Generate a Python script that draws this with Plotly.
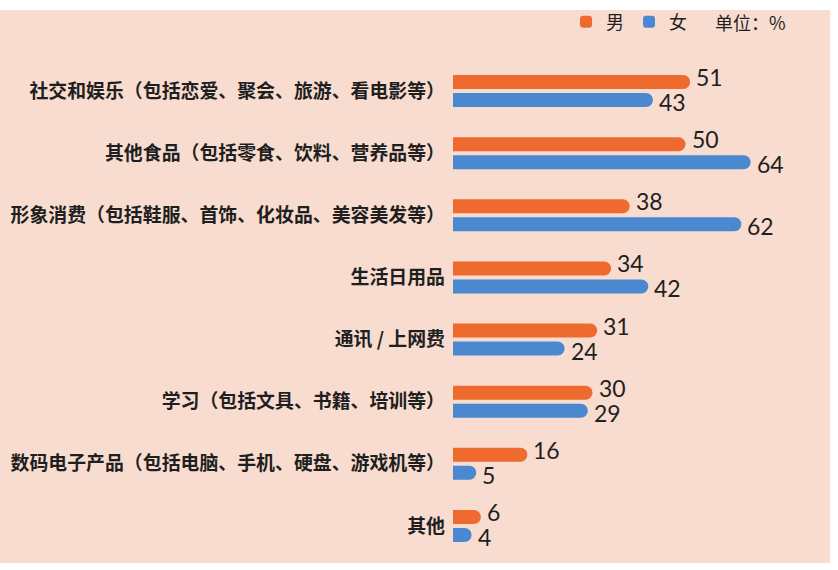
import plotly.graph_objects as go

# =====================================================
# DATA
# =====================================================

categories = [
    "社交和娱乐（包括恋爱、聚会、旅游、看电影等）",
    "其他食品（包括零食、饮料、营养品等）",
    "形象消费（包括鞋服、首饰、化妆品、美容美发等）",
    "生活日用品",
    "通讯 / 上网费",
    "学习（包括文具、书籍、培训等）",
    "数码电子产品（包括电脑、手机、硬盘、游戏机等）",
    "其他",
]
male = [51, 50, 38, 34, 31, 30, 16, 6]
female = [43, 64, 62, 42, 24, 29, 5, 4]

ORANGE = "#ee6a2e"
BLUE = "#4a88d0"
PEACH = "#f8dccf"
TEXT = "#1f1f1f"

W, H = 838, 570
M_L, M_R, M_T, M_B = 453, 8, 60, 13
plot_w = W - M_L - M_R
plot_h = H - M_T - M_B

fig = go.Figure()

# (name, values, colour, vertical shift of the value label in px)
series = [("男", male, ORANGE, 14), ("女", female, BLUE, -11)]

for name, vals, color, _ in series:
    fig.add_trace(
        go.Bar(
            y=categories,
            x=vals,
            name=name,
            orientation="h",
            marker=dict(color=color, cornerradius=7, line=dict(width=0)),
            hoverinfo="skip",
        )
    )

# -------------------------------------------------
# Value labels (annotations so the pair can be spread apart)
# -------------------------------------------------

for name, vals, color, dy in series:
    for cat, v in zip(categories, vals):
        fig.add_annotation(
            x=v, y=cat, text=str(v),
            xanchor="left", yanchor="middle",
            xshift=4, yshift=dy,
            showarrow=False,
            font=dict(family="Lato, Open Sans, sans-serif", size=23, color=TEXT),
        )

# -------------------------------------------------
# Peach panel behind everything (paper coords)
# -------------------------------------------------

def px_x(px):
    return (px - M_L) / plot_w

def px_y(px):
    return (H - M_B - px) / plot_h

fig.add_shape(
    type="rect", xref="paper", yref="paper", layer="below",
    x0=px_x(0), x1=px_x(830), y0=px_y(563), y1=px_y(10),
    fillcolor=PEACH, line=dict(width=0),
)

fig.add_annotation(
    text="单位：%", xref="paper", yref="paper",
    x=px_x(713), y=px_y(22), xanchor="left", yanchor="middle",
    showarrow=False,
    font=dict(family="Noto Sans CJK SC", size=18, color=TEXT),
)

# -------------------------------------------------
# Layout
# -------------------------------------------------

fig.update_layout(
    width=W,
    height=H,
    margin=dict(l=M_L, r=M_R, t=M_T, b=M_B, autoexpand=False),
    paper_bgcolor="white",
    plot_bgcolor="rgba(0,0,0,0)",
    barmode="group",
    bargap=0.42,
    bargroupgap=0.22,
    font=dict(family="Noto Sans CJK SC", color=TEXT),
    legend=dict(
        orientation="h",
        xref="paper", yref="paper",
        x=px_x(692), y=px_y(22),
        xanchor="right", yanchor="middle",
        bgcolor="rgba(0,0,0,0)",
        font=dict(family="Noto Sans CJK SC", size=18, color=TEXT),
        itemwidth=30,
        traceorder="normal",
    ),
    xaxis=dict(
        range=[0, plot_w / 4.65],
        visible=False,
        showgrid=False,
        zeroline=False,
        automargin=False,
    ),
    yaxis=dict(
        autorange="reversed",
        showgrid=False,
        zeroline=False,
        showline=False,
        ticks="",
        automargin=False,
        ticklabelstandoff=7,
        tickfont=dict(family="Noto Sans CJK SC", size=18.9, color=TEXT, weight="bold"),
    ),
)

# page body margin would push the figure off the 838x570 window
fig.write_html(
    "out.html",
    config={"displayModeBar": False},
    post_script="document.body.style.margin = '0';",
)
